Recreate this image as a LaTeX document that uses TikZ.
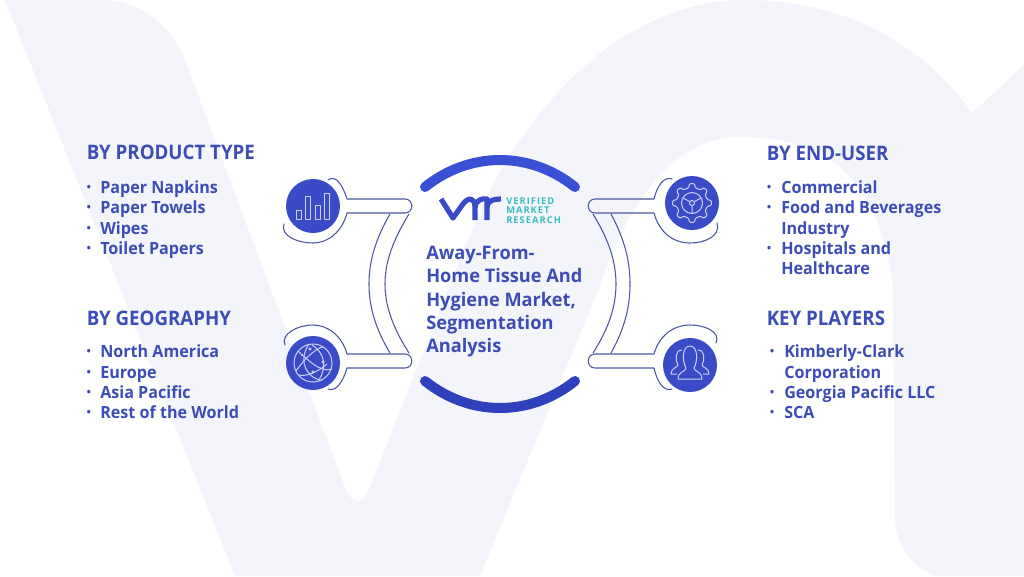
\documentclass[tikz,border=0pt]{standalone}
\usepackage{fontspec}
\usepackage{xcolor}
\setmainfont{Open Sans}
\usetikzlibrary{calc}
\definecolor{paleback}{HTML}{F4F5FB}
\definecolor{inkblue}{HTML}{3D4CB6}
\definecolor{hubblue}{HTML}{3A4BC8}
\definecolor{arcblue}{HTML}{3850D4}
\definecolor{arcdark}{HTML}{2F40BC}
\definecolor{pipeline}{HTML}{4A579F}
\definecolor{iconline}{HTML}{CDD2F2}
\definecolor{tealtext}{HTML}{38BDBD}
\tikzset{
    heading/.style={anchor=base west, inner sep=0pt, text=inkblue, font=\fontsize{15}{18}\selectfont\bfseries\addfontfeature{FakeStretch=0.935}},
    itemtext/.style={anchor=base west, inner sep=0pt, text=inkblue, font=\fontsize{12.6}{15}\selectfont\bfseries\addfontfeature{FakeStretch=0.96}},
    itemdot/.style={anchor=base, inner sep=0pt, text=inkblue, font=\fontsize{11}{13}\selectfont},
    brandtext/.style={anchor=base west, inner sep=0pt, text=tealtext, font=\fontsize{7}{8}\selectfont\bfseries\addfontfeature{LetterSpace=11}},
    hub/.style={circle, fill=hubblue, minimum size=40.5pt, inner sep=0pt},
    pipe/.style={draw=pipeline, line width=0.8pt, line cap=round, line join=round},
    icon/.style={draw=iconline, line width=0.75pt, line join=round},
    bigarc/.style={line width=7.5pt, line cap=round},
    logoline/.style={draw=hubblue, line width=3.9pt, line join=round}
}
\begin{document}
\begin{tikzpicture}[x=0.75pt,y=-0.75pt]
    \useasboundingbox (0,0) rectangle (1024,576);
    % background letters
    \fill[paleback] (5,0) -- (110,0) .. controls (145,3) and (172,28) .. (185,60)
        -- (345,488) .. controls (352,505) and (362,505) .. (368,492)
        -- (470,235) .. controls (510,130) and (610,0) .. (745,0)
        .. controls (840,0) and (920,40) .. (972,113) -- (1024,65) -- (1024,576) -- (935,576)
        .. controls (910,565) and (895,545) .. (895,515) -- (893,288)
        .. controls (880,180) and (830,137) .. (739,137)
        .. controls (670,137) and (625,210) .. (599,288) -- (480,576) -- (235,576) -- cycle;
    % centre arcs
    \draw[bigarc, arcblue] (425,187) .. controls (470,151) and (530,151) .. (575,187);
    \draw[bigarc, arcdark] (425,381) .. controls (470,417) and (530,417) .. (575,381);
    % logo
    \draw[logoline] (441,199) -- (453,218) -- (463,204)
        .. controls (468,197) and (475,197) .. (475,207) -- (475,220);
    \draw[logoline] (475,207) .. controls (476,200) and (482,198) .. (487,199) -- (487,220);
    \draw[logoline] (487,207) .. controls (488,200) and (494,199) .. (501,199);
    \node[brandtext] (brandA) at (506,204.5) {VERIFIED};
    \node[brandtext] (brandB) at (506,213.8) {MARKET};
    \node[brandtext] (brandC) at (506,223) {RESEARCH};
    % centre title
    \node[anchor=north west, inner sep=0pt, align=left, text=inkblue,
        font=\fontsize{14}{17.4}\selectfont\bfseries\addfontfeature{FakeStretch=0.975}] (title) at (426,246)
        {Away-From-\\Home Tissue And\\Hygiene Market,\\Segmentation\\Analysis};
    % left pipes
    \draw[pipe] (328,180) .. controls (336,174) and (343,186) .. (347,199) -- (405,199)
        .. controls (414,199) and (414,213) .. (405,213) -- (347,213)
        .. controls (342,232) and (328,243) .. (313,243) .. controls (298,243) and (280,236) .. (284,224);
    \draw[pipe] (328,389) .. controls (336,392) and (343,382) .. (347,368) -- (405,368)
        .. controls (414,368) and (414,354) .. (405,354) -- (347,354)
        .. controls (342,336) and (328,325) .. (313,325) .. controls (298,325) and (280,334) .. (285,345);
    \draw[pipe] (390,214) .. controls (375,240) and (369,262) .. (369,284) .. controls (369,306) and (375,328) .. (390,353);
    \draw[pipe] (409,214) .. controls (393,240) and (385,262) .. (385,284) .. controls (385,306) and (393,328) .. (409,353);
    % right pipes
    \draw[pipe] (672,179) .. controls (664,176) and (657,186) .. (654,199) -- (595,199)
        .. controls (586,199) and (586,213) .. (595,213) -- (654,213)
        .. controls (659,232) and (673,243) .. (690,243) .. controls (705,243) and (721,236) .. (717,223);
    \draw[pipe] (672,389) .. controls (664,392) and (657,382) .. (654,368) -- (595,368)
        .. controls (586,368) and (586,354) .. (595,354) -- (654,354)
        .. controls (659,336) and (673,325) .. (690,325) .. controls (705,325) and (721,332) .. (716,343);
    \draw[pipe] (611,214) .. controls (625,240) and (630,262) .. (630,284) .. controls (630,306) and (625,328) .. (611,353);
    \draw[pipe] (593,214) .. controls (609,240) and (616,262) .. (616,284) .. controls (616,306) and (609,328) .. (593,353);
    % hubs
    \node[hub] (hubProduct) at (313,206) {};
    \node[hub] (hubGeo) at (313,363) {};
    \node[hub] (hubUser) at (692,203) {};
    \node[hub] (hubPlayers) at (690,365) {};
    % bars icon
    \draw[icon] (296.7,210) rectangle (301.7,219.3);
    \draw[icon] (305.7,196.7) rectangle (310.7,219.3);
    \draw[icon] (315,205.7) rectangle (320,219.3);
    \draw[icon] (324.3,193.3) rectangle (329.3,219.3);
    % globe icon
    \begin{scope}[shift={(hubGeo)}]
        \draw[icon] (0,0) circle (19);
        \draw[icon] (-15,-12) .. controls (-4,-2) and (8,10) .. (19,6);
        \draw[icon] (-17,8) .. controls (-6,-8) and (6,-16) .. (10,-16);
        \draw[icon] (-4,-19) .. controls (-14,-4) and (-8,8) .. (0,14) .. controls (6,17) and (8,18) .. (9,17);
        \draw[icon] (-1,-18) .. controls (12,-10) and (14,4) .. (6,17);
        \draw[icon] (-14,12) .. controls (-6,14) and (6,8) .. (14,1);
        \fill[iconline] (-3,-14) circle (1.6) (10,-1) circle (1.6) (0,9) circle (1.6) (-11,-8) circle (1.2);
    \end{scope}
    % gear icon
    \begin{scope}[shift={(hubUser)}]
        \draw[icon, rounded corners=0.8pt] (-13:15.5) \foreach \a in {0,45,...,315} {
            -- (\a-13:15.5) -- (\a-7:19.5) -- (\a+7:19.5) -- (\a+13:15.5)} -- cycle;
        \draw[icon] (0,0) circle (10.5);
        \draw[icon] (0,0) circle (2.5);
        \draw[icon] (-2.5,-1.5) -- (-9,-5) (2.5,-1.5) -- (9,-5) (0,2.5) -- (0,10);
    \end{scope}
    % people icon
    \begin{scope}[shift={(hubPlayers)}]
        \draw[icon] (-13,9) -- (-19,9) .. controls (-19,3) and (-13,3) .. (-12,0)
            .. controls (-15,-5) and (-15,-15) .. (-8,-15) (8,-15) .. controls (15,-15) and (15,-5) .. (12,0)
            .. controls (13,3) and (19,3) .. (19,9) -- (13,9);
        \draw[icon] (-12,14) .. controls (-12,6) and (-4,7) .. (-4,3) .. controls (-8,-4) and (-8,-19) .. (0,-19)
            .. controls (8,-19) and (8,-4) .. (4,3) .. controls (4,7) and (12,6) .. (12,14) -- cycle;
    \end{scope}
    % product type list
    \node[heading] (headProduct) at (86.5,159) {BY PRODUCT TYPE};
    \foreach \i/\y/\t in {1/193/Paper Napkins, 2/213/Paper Towels, 3/234/Wipes, 4/254/Toilet Papers}{
        \node[itemdot] (dotProduct\i) at (89,\y-1) {•};
        \node[itemtext] (itemProduct\i) at (100,\y) {\t};
    }
    % geography list
    \node[heading] (headGeo) at (86.5,325) {BY GEOGRAPHY};
    \foreach \i/\y/\t in {1/357/North America, 2/378/Europe, 3/398/Asia Pacific, 4/418/Rest of the World}{
        \node[itemdot] (dotGeo\i) at (89,\y-1) {•};
        \node[itemtext] (itemGeo\i) at (100,\y) {\t};
    }
    % end user list
    \node[heading] (headUser) at (766.5,160) {BY END-USER};
    \foreach \i/\y/\t in {1/193/Commercial, 2/213/Food and Beverages, 4/254/Hospitals and}{
        \node[itemdot] (dotUser\i) at (769,\y-1) {•};
        \node[itemtext] (itemUser\i) at (781,\y) {\t};
    }
    \node[itemtext] (itemUser3) at (781,234) {Industry};
    \node[itemtext] (itemUser5) at (781,274) {Healthcare};
    % key players list
    \node[heading] (headPlayers) at (766.5,325) {KEY PLAYERS};
    \foreach \i/\y/\t in {1/357/Kimberly-Clark, 3/398/Georgia Pacific LLC, 4/418/SCA}{
        \node[itemdot] (dotPlayers\i) at (772,\y-1) {•};
        \node[itemtext] (itemPlayers\i) at (784,\y) {\t};
    }
    \node[itemtext] (itemPlayers2) at (784,378) {Corporation};
\end{tikzpicture}
\end{document}
